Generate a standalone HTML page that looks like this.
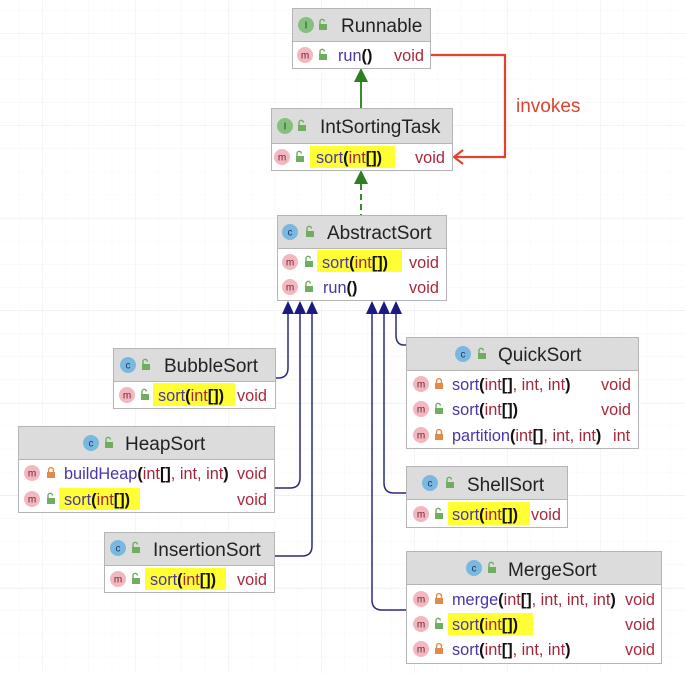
<!DOCTYPE html>
<html><head><meta charset="utf-8"><style>
html,body{margin:0;padding:0;background:#fff;}
svg{display:block;font-family:"Liberation Sans",sans-serif;}
.t{font-size:19px;fill:#222;}
.r{font-size:16.3px;}
.n{fill:#4a35a8;}
.p{fill:#111;font-weight:bold;}
.i{fill:#a0283c;}
.v{fill:#a8283c;}
.mi{font-size:10px;fill:#6a1d2c;}
.ci{font-size:10px;fill:#1a3a6a;}
.ii{font-size:10px;fill:#1d4a1d;}
</style></head><body>
<svg width="685" height="673" viewBox="0 0 685 673" xmlns="http://www.w3.org/2000/svg">
<defs>
<pattern id="gs" width="23.25" height="23.1" patternUnits="userSpaceOnUse" x="42" y="33">
<path d="M0 0H23.25M0 0V23.1" stroke="#f6f6f6" stroke-width="1" fill="none"/>
</pattern>
<pattern id="gb" width="93" height="92.5" patternUnits="userSpaceOnUse" x="42" y="33">
<path d="M0 0H93M0 0V92.5" stroke="#ebebeb" stroke-width="1" fill="none"/>
</pattern>
<g id="lg"><rect x="-4" y="-1" width="8" height="6" fill="#6fae5f"/><path d="M-3 -1V-3.5a2.2 2.2 0 0 1 4.4 0" stroke="#6fae5f" stroke-width="1.4" fill="none"/></g>
<g id="lo"><rect x="-4" y="-1" width="8" height="6" fill="#e08a4c"/><path d="M-2.4 -1V-3a2.4 2.4 0 0 1 4.8 0V-1" stroke="#e08a4c" stroke-width="1.4" fill="none"/></g>
</defs>
<rect width="685" height="673" fill="url(#gs)"/>
<rect width="685" height="673" fill="url(#gb)"/>

<g stroke="#2a2a80" stroke-width="1.5" fill="none">
<path d="M288 313V368Q288 378 278 378H275"/>
<path d="M300 313V478Q300 488 290 488H274"/>
<path d="M312 313V546Q312 556 302 556H274"/>
<path d="M396 313V335Q396 345 404 345H406"/>
<path d="M384 313V483Q384 493 394 493H406"/>
<path d="M372 313V600Q372 610 382 610H406"/>
</g>
<g fill="#1a1a80">
<path d="M288 301L282 314H294Z"/><path d="M300 301L294 314H306Z"/><path d="M312 301L306 314H318Z"/>
<path d="M372 301L366 314H378Z"/><path d="M384 301L378 314H390Z"/><path d="M396 301L390 314H402Z"/>
</g>
<path d="M361 82V108" stroke="#3d8a2e" stroke-width="2"/>
<path d="M361 68L354 82H368Z" fill="#2f7f22"/>
<path d="M361 184V215" stroke="#3d8a2e" stroke-width="2" stroke-dasharray="6,4"/>
<path d="M361 170L354 184H368Z" fill="#2f7f22"/>
<path d="M430 55H505V157H454" stroke="#e0442c" stroke-width="2.2" fill="none"/>
<path d="M463 150L454 157L463 164" stroke="#e0442c" stroke-width="2.2" fill="none"/>
<text x="516" y="112" font-size="19" fill="#d9452e">invokes</text>

<!-- Runnable -->
<rect x="292.5" y="8.5" width="138" height="60" fill="#fff" stroke="#b5b5b5"/>
<rect x="292.5" y="8.5" width="138" height="33" fill="#dcdcdc" stroke="#b5b5b5"/>
<circle cx="306" cy="25" r="8" fill="#86c07e"/><text x="306" y="28.5" text-anchor="middle" class="ii">I</text>
<use href="#lg" x="323" y="25"/>
<text x="341" y="32" class="t">Runnable</text>
<circle cx="305" cy="55" r="8" fill="#f3b7c0"/><text x="305" y="58.5" text-anchor="middle" class="mi">m</text>
<use href="#lg" x="323" y="55"/>
<text x="338" y="61" class="r"><tspan class="n">run</tspan><tspan class="p">()</tspan></text>
<text x="394" y="61" class="r v">void</text>

<!-- IntSortingTask -->
<rect x="271.5" y="108.5" width="181" height="62" fill="#fff" stroke="#b5b5b5"/>
<rect x="271.5" y="108.5" width="181" height="35" fill="#dcdcdc" stroke="#b5b5b5"/>
<circle cx="285" cy="126" r="8" fill="#86c07e"/><text x="285" y="129.5" text-anchor="middle" class="ii">I</text>
<use href="#lg" x="302" y="126"/>
<text x="320" y="133" class="t">IntSortingTask</text>
<circle cx="282" cy="157" r="8" fill="#f3b7c0"/><text x="282" y="160.5" text-anchor="middle" class="mi">m</text>
<use href="#lg" x="300" y="157"/>
<rect x="310" y="146" width="85" height="22" fill="#ffff33"/>
<text x="316" y="163" class="r"><tspan class="n">sort</tspan><tspan class="p">(</tspan><tspan class="i">int</tspan><tspan class="p">[])</tspan></text>
<text x="415" y="163" class="r v">void</text>

<!-- AbstractSort -->
<rect x="277.5" y="215.5" width="169" height="85" fill="#fff" stroke="#b5b5b5"/>
<rect x="277.5" y="215.5" width="169" height="33" fill="#dcdcdc" stroke="#b5b5b5"/>
<circle cx="290" cy="232" r="8" fill="#7ab8e0"/><text x="290" y="235.5" text-anchor="middle" class="ci">c</text>
<use href="#lg" x="310" y="232"/>
<text x="327" y="239" class="t">AbstractSort</text>
<circle cx="290" cy="262" r="8" fill="#f3b7c0"/><text x="290" y="265.5" text-anchor="middle" class="mi">m</text>
<use href="#lg" x="309" y="262"/>
<rect x="317" y="250" width="85" height="22" fill="#ffff33"/>
<text x="322" y="268" class="r"><tspan class="n">sort</tspan><tspan class="p">(</tspan><tspan class="i">int</tspan><tspan class="p">[])</tspan></text>
<text x="409" y="268" class="r v">void</text>
<circle cx="290" cy="287" r="8" fill="#f3b7c0"/><text x="290" y="290.5" text-anchor="middle" class="mi">m</text>
<use href="#lg" x="309" y="287"/>
<text x="323" y="293" class="r"><tspan class="n">run</tspan><tspan class="p">()</tspan></text>
<text x="409" y="293" class="r v">void</text>

<!-- BubbleSort -->
<rect x="113.5" y="348.5" width="162" height="60" fill="#fff" stroke="#b5b5b5"/>
<rect x="113.5" y="348.5" width="162" height="33" fill="#dcdcdc" stroke="#b5b5b5"/>
<circle cx="128" cy="365" r="8" fill="#7ab8e0"/><text x="128" y="368.5" text-anchor="middle" class="ci">c</text>
<use href="#lg" x="146" y="365"/>
<text x="164" y="372" class="t">BubbleSort</text>
<circle cx="127" cy="395" r="8" fill="#f3b7c0"/><text x="127" y="398.5" text-anchor="middle" class="mi">m</text>
<use href="#lg" x="145" y="395"/>
<rect x="153" y="383" width="82" height="23" fill="#ffff33"/>
<text x="158" y="401" class="r"><tspan class="n">sort</tspan><tspan class="p">(</tspan><tspan class="i">int</tspan><tspan class="p">[])</tspan></text>
<text x="237" y="401" class="r v">void</text>

<!-- HeapSort -->
<rect x="18.5" y="426.5" width="256" height="86" fill="#fff" stroke="#b5b5b5"/>
<rect x="18.5" y="426.5" width="256" height="33" fill="#dcdcdc" stroke="#b5b5b5"/>
<circle cx="91" cy="443" r="8" fill="#7ab8e0"/><text x="91" y="446.5" text-anchor="middle" class="ci">c</text>
<use href="#lg" x="109" y="443"/>
<text x="125" y="450" class="t">HeapSort</text>
<circle cx="32" cy="473" r="8" fill="#f3b7c0"/><text x="32" y="476.5" text-anchor="middle" class="mi">m</text>
<use href="#lo" x="51" y="473"/>
<text x="64" y="479" class="r"><tspan class="n">buildHeap</tspan><tspan class="p">(</tspan><tspan class="i">int</tspan><tspan class="p">[]</tspan><tspan class="i">, int, int</tspan><tspan class="p">)</tspan></text>
<text x="237" y="479" class="r v">void</text>
<circle cx="32" cy="499" r="8" fill="#f3b7c0"/><text x="32" y="502.5" text-anchor="middle" class="mi">m</text>
<use href="#lg" x="51" y="499"/>
<rect x="59" y="488" width="81" height="22" fill="#ffff33"/>
<text x="64" y="505" class="r"><tspan class="n">sort</tspan><tspan class="p">(</tspan><tspan class="i">int</tspan><tspan class="p">[])</tspan></text>
<text x="237" y="505" class="r v">void</text>

<!-- InsertionSort -->
<rect x="104.5" y="532.5" width="170" height="60" fill="#fff" stroke="#b5b5b5"/>
<rect x="104.5" y="532.5" width="170" height="33" fill="#dcdcdc" stroke="#b5b5b5"/>
<circle cx="118" cy="548" r="8" fill="#7ab8e0"/><text x="118" y="551.5" text-anchor="middle" class="ci">c</text>
<use href="#lg" x="136" y="548"/>
<text x="153" y="556" class="t">InsertionSort</text>
<circle cx="118" cy="579" r="8" fill="#f3b7c0"/><text x="118" y="582.5" text-anchor="middle" class="mi">m</text>
<use href="#lg" x="136" y="579"/>
<rect x="145" y="568" width="81" height="22" fill="#ffff33"/>
<text x="150" y="585" class="r"><tspan class="n">sort</tspan><tspan class="p">(</tspan><tspan class="i">int</tspan><tspan class="p">[])</tspan></text>
<text x="237" y="585" class="r v">void</text>

<!-- QuickSort -->
<rect x="406.5" y="337.5" width="232" height="111" fill="#fff" stroke="#b5b5b5"/>
<rect x="406.5" y="337.5" width="232" height="33" fill="#dcdcdc" stroke="#b5b5b5"/>
<circle cx="463" cy="354" r="8" fill="#7ab8e0"/><text x="463" y="357.5" text-anchor="middle" class="ci">c</text>
<use href="#lg" x="482" y="354"/>
<text x="498" y="361" class="t">QuickSort</text>
<circle cx="421" cy="384" r="8" fill="#f3b7c0"/><text x="421" y="387.5" text-anchor="middle" class="mi">m</text>
<use href="#lo" x="439" y="384"/>
<text x="452" y="390" class="r"><tspan class="n">sort</tspan><tspan class="p">(</tspan><tspan class="i">int</tspan><tspan class="p">[]</tspan><tspan class="i">, int, int</tspan><tspan class="p">)</tspan></text>
<text x="601" y="390" class="r v">void</text>
<circle cx="421" cy="409" r="8" fill="#f3b7c0"/><text x="421" y="412.5" text-anchor="middle" class="mi">m</text>
<use href="#lg" x="439" y="409"/>
<text x="452" y="415" class="r"><tspan class="n">sort</tspan><tspan class="p">(</tspan><tspan class="i">int</tspan><tspan class="p">[])</tspan></text>
<text x="601" y="415" class="r v">void</text>
<circle cx="421" cy="435" r="8" fill="#f3b7c0"/><text x="421" y="438.5" text-anchor="middle" class="mi">m</text>
<use href="#lo" x="439" y="435"/>
<text x="452" y="441" class="r"><tspan class="n">partition</tspan><tspan class="p">(</tspan><tspan class="i">int</tspan><tspan class="p">[]</tspan><tspan class="i">, int, int</tspan><tspan class="p">)</tspan></text>
<text x="613" y="441" class="r v">int</text>

<!-- ShellSort -->
<rect x="406.5" y="466.5" width="161" height="61" fill="#fff" stroke="#b5b5b5"/>
<rect x="406.5" y="466.5" width="161" height="33" fill="#dcdcdc" stroke="#b5b5b5"/>
<circle cx="430" cy="483" r="8" fill="#7ab8e0"/><text x="430" y="486.5" text-anchor="middle" class="ci">c</text>
<use href="#lg" x="450" y="483"/>
<text x="467" y="491" class="t">ShellSort</text>
<circle cx="421" cy="514" r="8" fill="#f3b7c0"/><text x="421" y="517.5" text-anchor="middle" class="mi">m</text>
<use href="#lg" x="439" y="514"/>
<rect x="448" y="502" width="82" height="23" fill="#ffff33"/>
<text x="452" y="520" class="r"><tspan class="n">sort</tspan><tspan class="p">(</tspan><tspan class="i">int</tspan><tspan class="p">[])</tspan></text>
<text x="531" y="520" class="r v">void</text>

<!-- MergeSort -->
<rect x="406.5" y="551.5" width="255" height="112" fill="#fff" stroke="#b5b5b5"/>
<rect x="406.5" y="551.5" width="255" height="33" fill="#dcdcdc" stroke="#b5b5b5"/>
<circle cx="474" cy="568" r="8" fill="#7ab8e0"/><text x="474" y="571.5" text-anchor="middle" class="ci">c</text>
<use href="#lg" x="492" y="568"/>
<text x="508" y="576" class="t">MergeSort</text>
<circle cx="421" cy="599" r="8" fill="#f3b7c0"/><text x="421" y="602.5" text-anchor="middle" class="mi">m</text>
<use href="#lo" x="439" y="599"/>
<text x="452" y="605" class="r"><tspan class="n">merge</tspan><tspan class="p">(</tspan><tspan class="i">int</tspan><tspan class="p">[]</tspan><tspan class="i">, int, int, int</tspan><tspan class="p">)</tspan></text>
<text x="625" y="605" class="r v">void</text>
<circle cx="421" cy="624" r="8" fill="#f3b7c0"/><text x="421" y="627.5" text-anchor="middle" class="mi">m</text>
<use href="#lg" x="439" y="624"/>
<rect x="448" y="613" width="85" height="22" fill="#ffff33"/>
<text x="452" y="630" class="r"><tspan class="n">sort</tspan><tspan class="p">(</tspan><tspan class="i">int</tspan><tspan class="p">[])</tspan></text>
<text x="625" y="630" class="r v">void</text>
<circle cx="421" cy="649" r="8" fill="#f3b7c0"/><text x="421" y="652.5" text-anchor="middle" class="mi">m</text>
<use href="#lo" x="439" y="649"/>
<text x="452" y="655" class="r"><tspan class="n">sort</tspan><tspan class="p">(</tspan><tspan class="i">int</tspan><tspan class="p">[]</tspan><tspan class="i">, int, int</tspan><tspan class="p">)</tspan></text>
<text x="625" y="655" class="r v">void</text>
</svg>
</body></html>
